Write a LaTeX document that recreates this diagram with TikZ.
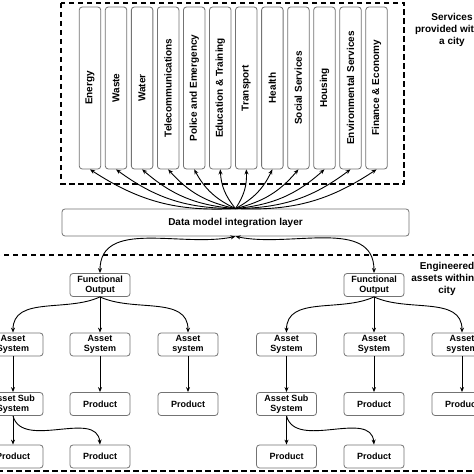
\documentclass[tikz,border=0pt]{standalone}
\usepackage{fontspec}
\setmainfont{Liberation Sans}
\usepackage{graphicx}
\usetikzlibrary{arrows.meta}
\begin{document}
\begin{tikzpicture}[x=1pt,y=1pt,
  box/.style={draw=black!55, line width=0.8pt, rounded corners=3pt, fill=white, align=center,
              font=\bfseries\fontsize{9}{10}\selectfont, inner sep=1pt},
  svc/.style={box, minimum width=21.5pt, minimum height=162pt, font=\bfseries\fontsize{10}{12}\selectfont},
  tbox/.style={box, minimum width=60pt, minimum height=23pt},
  dashline/.style={line width=1.5pt, dash pattern=on 5.5pt off 3.5pt},
  arr/.style={-{Stealth[length=5pt,width=4pt]}, line width=0.9pt},
  darr/.style={{Stealth[length=5pt,width=4pt]}-{Stealth[length=5pt,width=4pt]}, line width=0.9pt},
  lbl/.style={align=center, font=\bfseries\fontsize{10}{12}\selectfont}
]
\clip (0,0) rectangle (474,474);
\fill[white] (0,0) rectangle (474,474);

% dashed containers
\draw[dashline] (61,471) rectangle (404,290);
\draw[dashline] (-20,219) rectangle (494,3);

% labels
\node[lbl] (lserv) at (452,444) {Services\\provided within\\a city};
\node[lbl] (leng) at (447,195) {Engineered\\assets within a\\city};

% services
\foreach \t [count=\i] in {Energy, Waste, Water, Telecommunications, Police and Emergency,
  {Education \& Training}, Transport, Health, Social Services, Housing,
  Environmental Services, {Finance \& Economy}} {
  \node[svc] (s\i) at ({90+26.05*(\i-1)},386) {\rotatebox{90}{\t}};
}

% data model layer
\node[box, minimum width=347pt, minimum height=27pt, font=\bfseries\fontsize{10}{12}\selectfont] (dm) at (235.5,251.5) {Data model integration layer};

\foreach \i in {1,...,6} {
  \draw[arr] (dm.north) to[bend left=18] (s\i.south);
}
\foreach \i in {7,...,12} {
  \draw[arr] (dm.north) to[bend right=18] (s\i.south);
}

% left tree
\node[tbox] (fo1) at (100,189) {Functional\\Output};
\node[tbox] (a11) at (13,129.5) {Asset\\System};
\node[tbox] (a12) at (100,129.5) {Asset\\System};
\node[tbox] (a13) at (188,129.5) {Asset\\system};
\node[tbox] (b11) at (13,70) {Asset Sub\\System};
\node[tbox] (b12) at (100,70) {Product};
\node[tbox] (b13) at (188,70) {Product};
\node[tbox] (c11) at (13,17.5) {Product};
\node[tbox] (c12) at (100,17.5) {Product};

% right tree
\node[tbox] (fo2) at (374,189) {Functional\\Output};
\node[tbox] (a21) at (286.5,129.5) {Asset\\System};
\node[tbox] (a22) at (374,129.5) {Asset\\System};
\node[tbox] (a23) at (462,129.5) {Asset\\system};
\node[tbox] (b21) at (286.5,70) {Asset Sub\\System};
\node[tbox] (b22) at (374,70) {Product};
\node[tbox] (b23) at (462,70) {Product};
\node[tbox] (c21) at (286.5,17.5) {Product};
\node[tbox] (c22) at (374,17.5) {Product};

% layer to functional outputs
\draw[darr] (dm.south) to[out=-168, in=90] (fo1.north);
\draw[darr] (dm.south) to[out=-12, in=90] (fo2.north);

% tree connectors
\foreach \k in {1,2} {
  \draw[arr] (fo\k.south) to[out=-155, in=90] (a\k1.north);
  \draw[arr] (fo\k.south) -- (a\k2.north);
  \draw[arr] (fo\k.south) to[out=-25, in=90] (a\k3.north);
  \draw[arr] (a\k1) -- (b\k1);
  \draw[arr] (a\k2) -- (b\k2);
  \draw[arr] (a\k3) -- (b\k3);
  \draw[arr] (b\k1) -- (c\k1);
  \draw[arr] (b\k1.south) to[out=-75, in=95] (c\k2.north);
}
\end{tikzpicture}
\end{document}
